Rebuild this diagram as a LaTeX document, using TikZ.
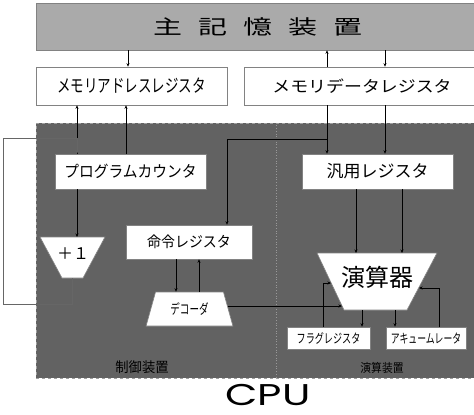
\documentclass[tikz,border=0pt]{standalone}
\usepackage{fontspec}
\usepackage{graphicx}
\usetikzlibrary{shapes.geometric,arrows.meta}

\setmainfont{Noto Sans CJK JP}
\newfontfamily\cpufont{Poppins}

\definecolor{memgray}{RGB}{170,170,170}
\definecolor{cpugray}{RGB}{98,98,98}
\definecolor{edgegray}{RGB}{130,130,130}

\newcommand{\squeeze}[2]{\scalebox{#1}[1]{#2}}
\newcommand{\fsz}[1]{\fontsize{#1}{#1}\selectfont}

\tikzstyle{memory} = [draw=edgegray,fill=memgray,rectangle,inner sep=0pt,line width=0.6pt]
\tikzstyle{region} = [draw=gray!75,fill=cpugray,rectangle,dashed,inner sep=0pt,line width=0.5pt]
\tikzstyle{register} = [draw=edgegray,fill=white,rectangle,inner sep=0pt,line width=0.6pt]
\tikzstyle{unit} = [draw=edgegray,fill=white,trapezium,trapezium stretches=true,inner sep=0pt,line width=0.6pt]
\tikzstyle{unitshape} = [draw=edgegray,fill=white,line width=0.6pt]
\tikzstyle{bus} = [draw=black,line width=0.5pt,-{Stealth[length=3.5pt,width=3pt]}]
\tikzstyle{loopwire} = [draw=black!60,line width=0.6pt,-{Stealth[length=3.5pt,width=3pt]}]
\tikzstyle{divider} = [draw=gray!80,dotted,line width=0.7pt]

\begin{document}
\begin{tikzpicture}[x=1pt,y=-1pt]
    \useasboundingbox (0,0) rectangle (474,415);

    \coordinate (MEM) at (258,26.5);
    \coordinate (MAR) at (131.5,86);
    \coordinate (MDR) at (362,86);
    \coordinate (CPU) at (258,250.5);
    \coordinate (PC) at (130.5,171.5);
    \coordinate (GR) at (377.5,171.5);
    \coordinate (IR) at (189,242);
    \coordinate (INC) at (73,254);
    \coordinate (ALU) at (377,277);
    \coordinate (DEC) at (189.5,309);
    \coordinate (FR) at (328.5,338);
    \coordinate (ACC) at (426,338);

    % corners of +1 and of the ALU
    \coordinate (inc1) at (40,237);
    \coordinate (inc2) at (105,237);
    \coordinate (inc3) at (83,278);
    \coordinate (inc4) at (62,278);
    \coordinate (alu1) at (317,253);
    \coordinate (alu2) at (437,253);
    \coordinate (alu3) at (407,310);
    \coordinate (alu4) at (344,310);
    \coordinate (aluL) at (331,283);
    \coordinate (aluR) at (419,288);
    \coordinate (aluIn) at (342,306);

    % bus columns
    \coordinate (b1) at (77,0);
    \coordinate (b2) at (126,0);
    \coordinate (b3) at (128,0);
    \coordinate (b4) at (327,0);
    \coordinate (b5) at (385,0);
    \coordinate (b6) at (176,0);
    \coordinate (b7) at (199,0);
    \coordinate (b8) at (356,0);
    \coordinate (b9) at (402,0);
    \coordinate (b10) at (362,0);
    \coordinate (b11) at (395,0);
    \coordinate (b12) at (323,0);
    \coordinate (b13) at (439,0);
    \coordinate (split) at (276,0);
    \coordinate (irin) at (227,139);

    % loop back from +1
    \coordinate (lp1) at (72.5,304);
    \coordinate (lp2) at (3,304);
    \coordinate (lp3) at (3,138);
    \coordinate (lp4) at (77,138);

    \node [style=memory,minimum width=444pt,minimum height=47pt] (MEM) at (MEM)
        {\fsz{20}\squeeze{1.45}{主\hspace{11pt}記\hspace{11pt}憶\hspace{11pt}装\hspace{11pt}置}};
    \node [style=register,minimum width=191pt,minimum height=38pt] (MAR) at (MAR)
        {\fsz{18}\squeeze{0.75}{メモリアドレスレジスタ}};
    \node [style=register,minimum width=236pt,minimum height=38pt] (MDR) at (MDR)
        {\fsz{16}\squeeze{1.12}{メモリデータレジスタ}};
    \node [style=region,minimum width=444pt,minimum height=255pt] (CPU) at (CPU) {};
    \draw [style=divider] (CPU.north -| split) -- (CPU.south -| split);

    \node [style=register,minimum width=151pt,minimum height=35pt] (PC) at (PC)
        {\fsz{16}\squeeze{0.92}{プログラムカウンタ}};
    \node [style=register,minimum width=151pt,minimum height=35pt] (GR) at (GR)
        {\fsz{17}汎用レジスタ};
    \node [style=register,minimum width=126pt,minimum height=34pt] (IR) at (IR)
        {\fsz{15}\squeeze{0.93}{命令レジスタ}};
    \draw [style=unitshape] (inc1) -- (inc2) -- (inc3) -- (inc4) -- cycle;
    \node (INC) at (INC) {\fsz{16}＋１};
    \draw [style=unitshape] (alu1) -- (alu2) -- (alu3) -- (alu4) -- cycle;
    \node (ALU) at (ALU) {\fsz{24}演算器};
    \node [style=unit,trapezium left angle=67.6,trapezium right angle=67.6,
        minimum width=87pt,minimum height=34pt] (DEC) at (DEC) {\fsz{14}\squeeze{0.68}{デコーダ}};
    \node [style=register,minimum width=83pt,minimum height=22pt] (FR) at (FR)
        {\fsz{13}\squeeze{0.7}{フラグレジスタ}};
    \node [style=register,minimum width=80pt,minimum height=22pt] (ACC) at (ACC)
        {\fsz{13}\squeeze{0.68}{アキュームレータ}};

    \node (ctrl) at (142,367) {\fsz{14}\squeeze{0.95}{制御装置}};
    \node (calc) at (382,368) {\fsz{12}\squeeze{0.9}{演算装置}};
    \node (cpulabel) at (268,395) {\cpufont\fsz{30}\squeeze{1.4}{CPU}};

    \draw [style=bus] (MEM.south -| b3) -- (MAR.north -| b3);
    \draw [style=bus] (MDR.north -| b4) -- (MEM.south -| b4);
    \draw [style=bus] (MEM.south -| b5) -- (MDR.north -| b5);
    \draw [style=bus] (PC.north -| b1) -- (MAR.south -| b1);
    \draw [style=bus] (PC.north -| b2) -- (MAR.south -| b2);
    \draw [style=bus] (PC.south -| b1) -- (b1 |- inc1);
    \draw [style=loopwire] (lp1 |- inc4) -- (lp1) -- (lp2) -- (lp3) -- (lp4) -- (PC.north -| lp4);
    \draw [style=bus] (MDR.south -| b4) |- (irin) -- (IR.north -| irin);
    \draw [style=bus] (MDR.south -| b4) -- (GR.north -| b4);
    \draw [style=bus] (MDR.south -| b5) -- (GR.north -| b5);
    \draw [style=bus] (IR.south -| b6) -- (DEC.north -| b6);
    \draw [style=bus] (DEC.north -| b7) -- (IR.south -| b7);
    \draw [style=bus] (GR.south -| b8) -- (b8 |- alu1);
    \draw [style=bus] (GR.south -| b9) -- (b9 |- alu1);
    \draw [style=bus] (DEC.east |- aluIn) -- (aluIn);
    \draw [style=bus] (b10 |- alu4) -- (FR.north -| b10);
    \draw [style=bus] (b11 |- alu4) -- (ACC.north -| b11);
    \draw [style=bus] (FR.north -| b12) |- (aluL);
    \draw [style=bus] (ACC.north -| b13) |- (aluR);
\end{tikzpicture}
\end{document}
